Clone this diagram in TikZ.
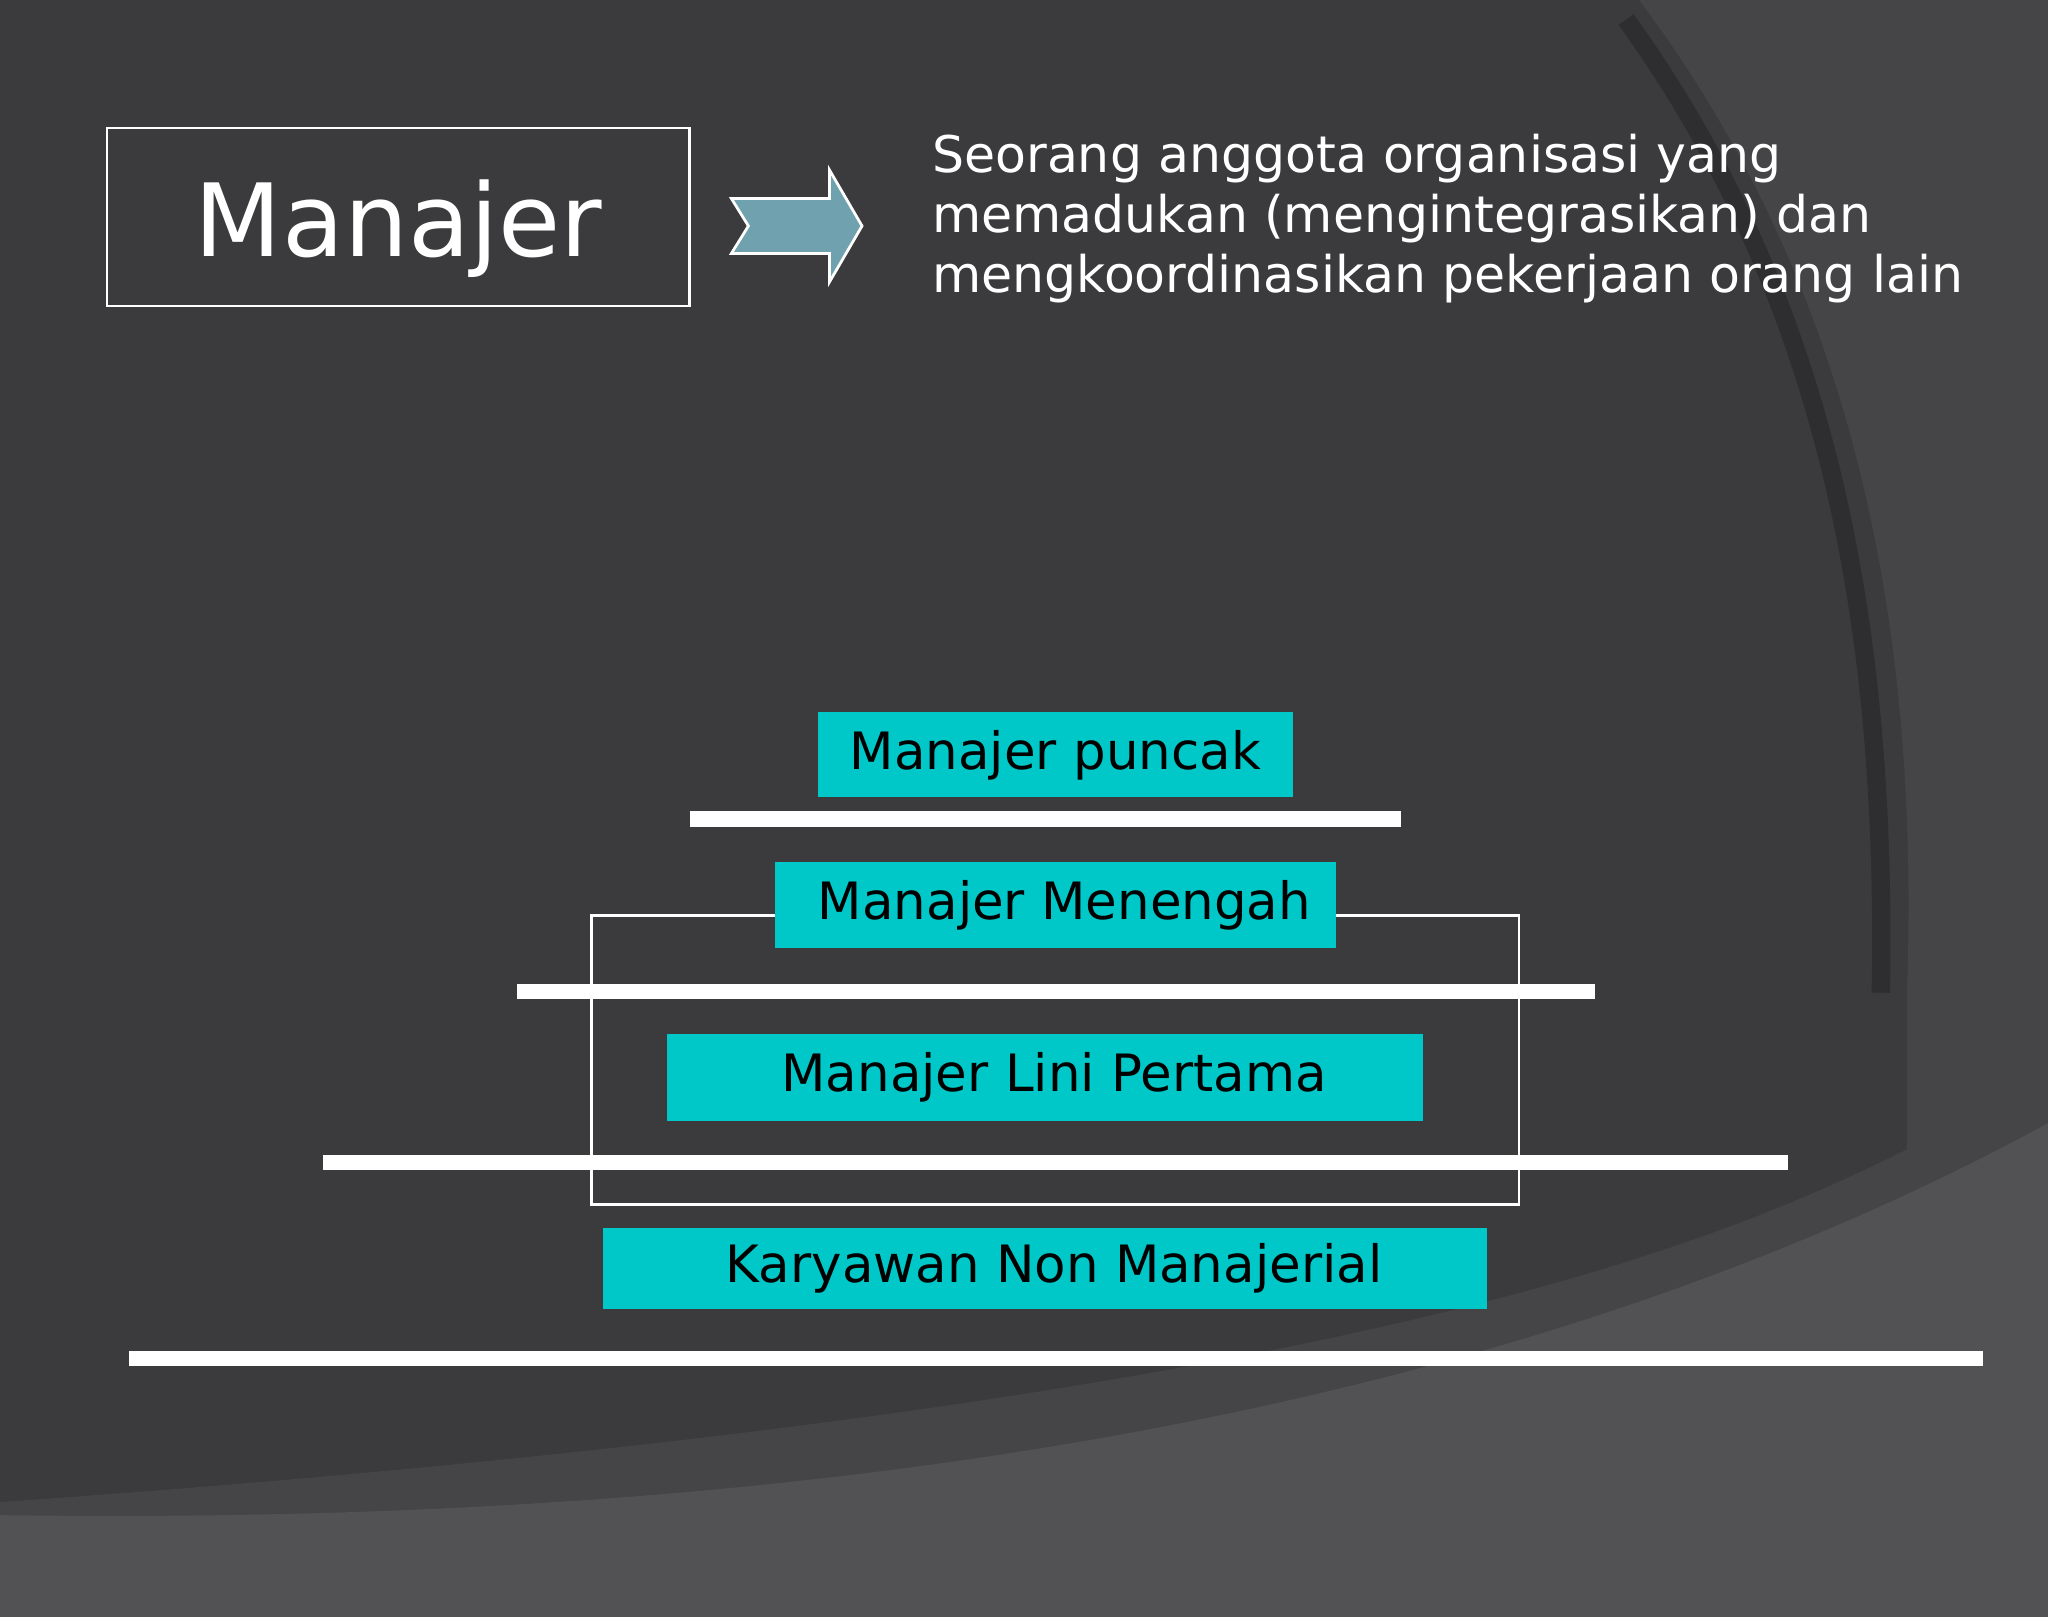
\documentclass[tikz,border=0pt]{standalone}
\usepackage{fontspec}
\setmainfont{DejaVu Sans}
\definecolor{bg}{HTML}{3B3B3D}
\definecolor{bg2}{HTML}{454547}
\definecolor{bg3}{HTML}{525254}
\definecolor{dk}{HTML}{2E2E30}
\definecolor{teal}{HTML}{00C8C8}
\definecolor{arr}{HTML}{6FA2AE}
\tikzset{x=0.01cm,y=-0.01cm,
 lvl/.style={fill=teal,font=\fontsize{11.2pt}{13pt}\selectfont,text=black,inner sep=0},
 bar/.style={draw=white,line width=12*0.2845pt}}
\begin{document}
\begin{tikzpicture}
\fill[bg] (0,0) rectangle (1568,1238);
\useasboundingbox (0,0) rectangle (1568,1238);
% background curves
\fill[bg2] (1255,0) .. controls (1420,220) and (1470,480) .. (1460,760) -- (1460,880) .. controls (1300,960) and (1000,1080) .. (0,1150) -- (0,1238) -- (1568,1238) -- (1568,0) -- cycle;
\draw[dk,line width=4pt] (1245,15) .. controls (1400,230) and (1445,480) .. (1440,760);
\fill[bg3] (0,1160) .. controls (700,1170) and (1200,1060) .. (1568,860) -- (1568,1238) -- (0,1238) -- cycle;
% top
\draw[white!70,line width=0.5pt] (82,98) rectangle (528,234);
\node[font=\fontsize{22pt}{26pt}\selectfont,text=white] (m) at (305,175) {Manajer};
\draw[white,fill=arr,line width=0.6pt] (560,152) -- (635,152) -- (635,130) -- (660,173) -- (635,216) -- (635,194) -- (560,194) -- (573,173) -- cycle;
\node[anchor=north west,align=left,text=white,font=\fontsize{11pt}{13.1pt}\selectfont,inner sep=0] (t) at (713,102) {Seorang anggota organisasi yang\\memadukan (mengintegrasikan) dan\\mengkoordinasikan pekerjaan orang lain};
% pyramid
\draw[white,line width=0.6pt] (453,701) rectangle (1163,922);
\node[lvl,minimum width=3.63cm,minimum height=0.65cm] (l1) at (808,578) {\raisebox{-3pt}{Manajer puncak}};
\node[lvl,minimum width=4.29cm,minimum height=0.66cm] (l2) at (808,693) {\raisebox{-3pt}{\hspace*{4pt}Manajer Menengah}};
\node[lvl,minimum width=5.78cm,minimum height=0.66cm] (l3) at (800,825) {\raisebox{-3pt}{\hspace*{4pt}Manajer Lini Pertama}};
\node[lvl,minimum width=6.76cm,minimum height=0.62cm] (l4) at (800,971) {\raisebox{-3pt}{\hspace*{4pt}Karyawan Non Manajerial}};
\draw[bar] (528,627) -- (1073,627);
\draw[bar] (396,759) -- (1221,759);
\draw[bar] (247,890) -- (1369,890);
\draw[bar] (99,1040) -- (1518,1040);
\end{tikzpicture}
\end{document}
